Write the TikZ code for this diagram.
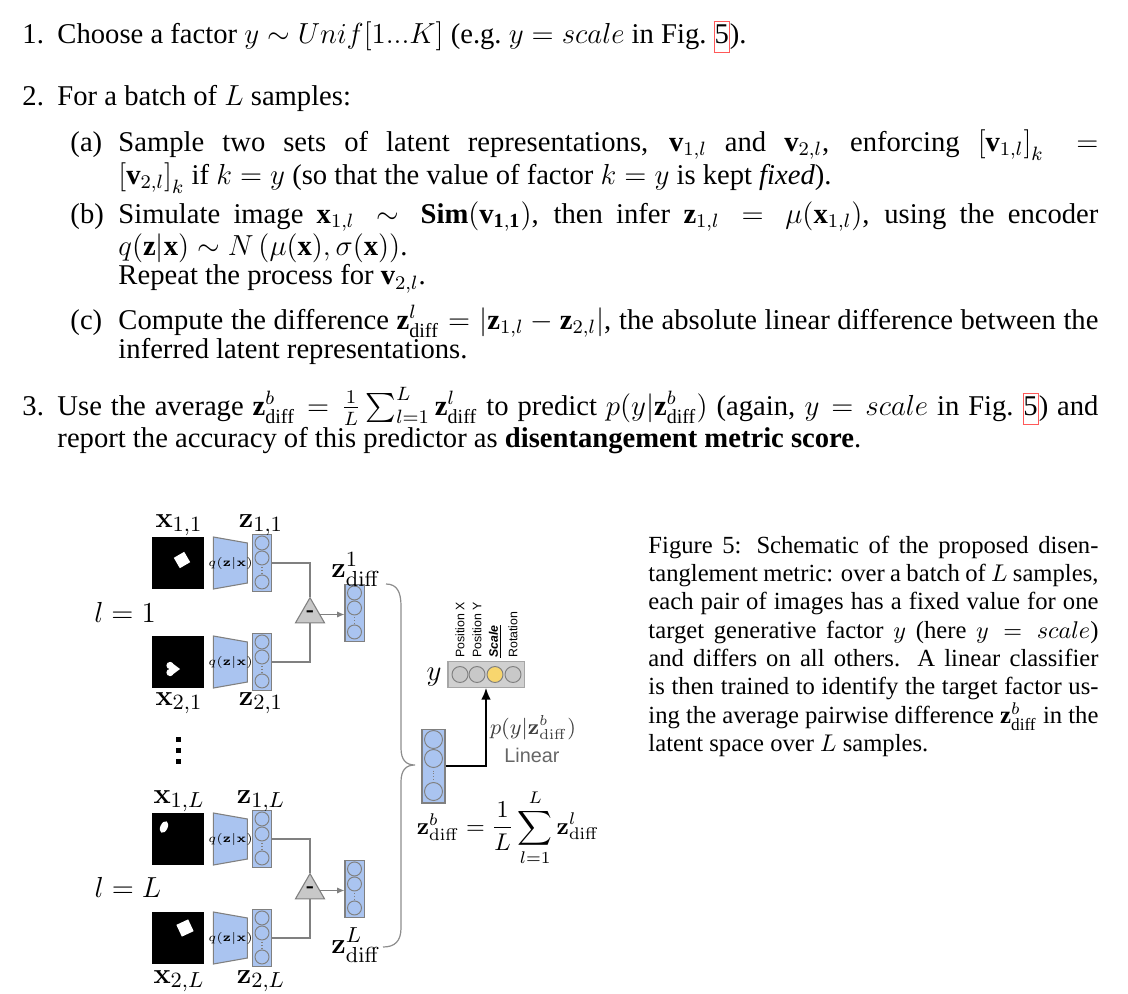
\documentclass[tikz,border=0pt]{standalone}
\usepackage{amsmath}
\usepackage{fontspec}
\setmainfont{Liberation Serif}
\setsansfont{Liberation Sans}
\usetikzlibrary{
  positioning,
  shapes.geometric,
  arrows.meta,
  calc
}
\definecolor{latblue}{RGB}{170,196,240}
\definecolor{latline}{RGB}{128,128,128}
\definecolor{opgray}{RGB}{200,200,200}
\definecolor{selyellow}{RGB}{248,214,110}
\DeclareMathAlphabet{\mathcmbf}{OT1}{cmr}{bx}{n}
\DeclareMathAlphabet{\mathcmrm}{OT1}{cmr}{m}{n}
\newcommand{\figlink}[1]{{\setlength{\fboxsep}{0pt}\fcolorbox{red!65}{white}{\strut#1}}}
\hyphenpenalty=10000
\emergencystretch=2em

\begin{document}
\begin{tikzpicture}[
    x=0.414pt, y=-0.414pt,
    >=Stealth,
    % Text styles
    num/.style={anchor=base west, inner sep=0pt, font=\fontsize{11.85}{12.2}\selectfont},
    para/.style={num, align=justify},
    capt/.style={para, font=\fontsize{10.2}{11.75}\selectfont},
    lab/.style={anchor=base, inner sep=0pt, font=\fontsize{12.5}{14}\selectfont},
    % Figure styles
    img/.style={rectangle, fill=black, inner sep=0pt,
        minimum width=21.5pt, minimum height=21.5pt},
    enc/.style={fill=latblue, draw=latline, line width=0.45pt},
    enclab/.style={inner sep=0pt, font=\fontsize{4.1}{5}\selectfont},
    zvec/.style={rectangle, fill=latblue, draw=latline, line width=0.45pt,
        inner sep=0pt, minimum width=7.9pt, minimum height=23.6pt},
    bvec/.style={zvec, minimum width=9.5pt, minimum height=30.6pt},
    cell/.style={draw=latline, line width=0.4pt},
    cdots/.style={draw=latline, line width=0.5pt, dash pattern=on 0.4pt off 0.8pt},
    minus/.style={regular polygon, regular polygon sides=3, fill=opgray,
        draw=latline, line width=0.45pt, inner sep=0pt, minimum size=13.9pt,
        font=\fontsize{10}{10}\selectfont\bfseries},
    ybox/.style={rectangle, fill=opgray!85, draw=latline!70, line width=0.45pt,
        inner sep=0pt, minimum width=31.5pt, minimum height=10.4pt},
    fac/.style={anchor=west, rotate=90, inner sep=0pt,
        font=\fontsize{5.1}{6}\selectfont\sffamily},
    % Arrow styles
    conn/.style={draw=latline, line width=0.5pt},
    oparr/.style={conn, -{Latex[length=3pt, width=2.6pt]}},
    linarr/.style={line width=0.9pt, -{Latex[length=5pt, width=4pt]}},
    brace/.style={draw=latline!90, line width=0.5pt}
]
\useasboundingbox (0,0) rectangle (1128,994);

% ==========================================
% TEXT
% ==========================================
\node[num] (n1) at (22,43) {1.};
\node[num] (t1) at (57,43) {Choose a factor $y \sim Unif[1...K]$ (e.g.\ $y = scale$ in Fig.~\figlink{5}).};

\node[num] (n2) at (22,105) {2.};
\node[num] (t2) at (57,105) {For a batch of $L$ samples:};

\node[num] (na) at (70,151) {(a)};
\node[para, text width=405.7pt] (ta) at (118,151) {Sample two sets of latent representations, $\mathbf{v}_{1,l}$ and $\mathbf{v}_{2,l}$, enforcing $\left[\mathbf{v}_{1,l}\right]_k =$\linebreak $\left[\mathbf{v}_{2,l}\right]_k$ if $k = y$ (so that the value of factor $k = y$ is kept \emph{fixed}).};

\node[num] (nb) at (70,223) {(b)};
\node[para, text width=405.7pt] (tb) at (118,223) {Simulate image $\mathbf{x}_{1,l} \sim \mathbf{Sim}(\mathbf{v_{1,1}})$, then infer $\mathbf{z}_{1,l} = \mu(\mathbf{x}_{1,l})$, using the encoder\linebreak $q(\mathbf{z}|\mathbf{x}) \sim N\left(\mu(\mathbf{x}), \sigma(\mathbf{x})\right)$.\\ Repeat the process for $\mathbf{v}_{2,l}$.};

\node[num] (nc) at (70,329) {(c)};
\node[para, text width=405.7pt] (tc) at (118,329) {Compute the difference $\mathbf{z}^l_{\text{diff}} = |\mathbf{z}_{1,l} - \mathbf{z}_{2,l}|$, the absolute linear difference between the\linebreak inferred latent representations.};

\node[num] (n3) at (22,415) {3.};
\node[para, text width=431pt] (t3) at (57,415) {Use the average $\mathbf{z}^b_{\text{diff}} = \frac{1}{L}\sum_{l=1}^{L}\mathbf{z}^l_{\text{diff}}$ to predict $p(y|\mathbf{z}^b_{\text{diff}})$ (again, $y = scale$ in Fig.~\figlink{5}) and\linebreak report the accuracy of this predictor as \textbf{disentangement metric score}.};

\node[capt, text width=186.3pt] (cap) at (648,553) {Figure 5: Schematic of the proposed disen-\linebreak tanglement metric: over a batch of $L$ samples,\linebreak each pair of images has a fixed value for one\linebreak target generative factor $y$ (here $y = scale$)\linebreak and differs on all others. A linear classifier\linebreak is then trained to identify the target factor us-\linebreak ing the average pairwise difference $\mathbf{z}^b_{\text{diff}}$ in the\linebreak latent space over $L$ samples.};

% ==========================================
% FIGURE: IMAGES, ENCODERS, LATENTS
% ==========================================
\foreach \r/\yc in {11/563, 21/662, 1L/839, 2L/938}{
    \node[img] (x\r) at (178,\yc) {};
    \draw[enc] ($(x\r.east)+(9,-26)$) -- ++(34,6) -- ++(0,40) -- ++(-34,6) -- cycle;
    \node[enclab] (q\r) at ($(x\r.east)+(26,0)$) {$q(\mathcmbf{z}|\mathcmbf{x})$};
    \node[zvec] (z\r) at (262,\yc) {};
}

% white sprites in the images
\fill[white, rotate around={30:(182,560)}] (176,554) rectangle (188,566);
\fill[white] (170,665.5) circle[radius=3.6] (170,672.5) circle[radius=3.6];
\fill[white] (170.5,661.8) -- (180,669) -- (170.5,676.2) -- cycle;
\fill[white, rotate around={-25:(164,827)}] (164,827) ellipse[x radius=3.6, y radius=6.2];
\fill[white, rotate around={25:(185,928)}] (178.5,921.5) rectangle (191.5,934.5);

% difference operators and difference codes
\node[minus] (op1) at (310,614.5) {-};
\node[minus] (opL) at (310,890.5) {-};
\node[zvec] (d1) at (354.5,613) {};
\node[zvec] (dL) at (354.5,889) {};

% cells of the latent codes
\foreach \v in {z11,z21,z1L,z2L,d1,dL}{
    \foreach \dy in {9,24,48}
        \draw[cell] ($(\v.north)+(0,\dy)$) circle[radius=7];
    \draw[cdots] ($(\v.north)+(0,33)$) -- ($(\v.north)+(0,40)$);
}

% labels
\node[lab] (lx11) at (179,527) {$\mathcmbf{x}_{\mathcmrm{1,1}}$};
\node[lab] (lz11) at (261,527) {$\mathcmbf{z}_{\mathcmrm{1,1}}$};
\node[lab] (lx21) at (179,705) {$\mathcmbf{x}_{\mathcmrm{2,1}}$};
\node[lab] (lz21) at (261,705) {$\mathcmbf{z}_{\mathcmrm{2,1}}$};
\node[lab] (lx1L) at (179,803) {$\mathcmbf{x}_{\mathcmrm{1},L}$};
\node[lab] (lz1L) at (261,803) {$\mathcmbf{z}_{\mathcmrm{1},L}$};
\node[lab] (lx2L) at (179,983) {$\mathcmbf{x}_{\mathcmrm{2},L}$};
\node[lab] (lz2L) at (261,983) {$\mathcmbf{z}_{\mathcmrm{2},L}$};
\node[lab] (ld1) at (356,577) {$\mathcmbf{z}^{\mathcmrm{1}}_{\mathcmrm{diff}}$};
\node[lab] (ldL) at (356,953) {$\mathcmbf{z}^{L}_{\mathcmrm{diff}}$};
\node[lab, font=\fontsize{12}{14}\selectfont] (lone) at (125,622) {$l = \mathcmrm{1}$};
\node[lab, font=\fontsize{12}{14}\selectfont] (lbig) at (128,897) {$l = L$};

% vertical dots between the pairs
\foreach \dy in {739,750,761}
    \fill (175.5,\dy-2.5) rectangle (180.5,\dy+2.5);

% ==========================================
% ROUTING
% ==========================================
\draw[conn] (z11.east) -| (op1.north);
\draw[conn] (z21.east) -| (op1.south);
\draw[oparr] (op1.east) -- (op1.east -| d1.west);
\draw[conn] (z1L.east) -| (opL.north);
\draw[conn] (z2L.east) -| (opL.south);
\draw[oparr] (opL.east) -- (opL.east -| dL.west);

% brace collecting the batch
\draw[brace] (386,584) .. controls (397,584) and (401,592) .. (401,606) -- (401,748)
    .. controls (401,760) and (406,765) .. (415,765)
    .. controls (406,765) and (401,770) .. (401,782) -- (401,928)
    .. controls (401,941) and (395,947) .. (383,947);

% ==========================================
% AVERAGE CODE AND CLASSIFIER
% ==========================================
\node[bvec] (zb) at (433.5,766) {};
\foreach \dy in {11,30,63}
    \draw[cell] ($(zb.north)+(0,\dy)$) circle[radius=9];
\draw[cdots] ($(zb.north)+(0,42)$) -- ($(zb.north)+(0,51)$);
\node[anchor=base, inner sep=0pt, font=\fontsize{10.3}{12}\selectfont] (avg) at (508,834)
    {$\mathcmbf{z}^b_{\mathcmrm{diff}} = \dfrac{\mathcmrm{1}}{L}\displaystyle\sum_{l=\mathcmrm{1}}^{L}\mathcmbf{z}^l_{\mathcmrm{diff}}$};

\node[ybox] (ybox) at (486,674.5) {};
\foreach \dx/\c in {-26/opgray, -9/opgray, 9/selyellow, 27/opgray}
    \draw[cell, fill=\c] ($(ybox.center)+(\dx,0)$) circle[radius=8];
\node[lab, font=\fontsize{12}{14}\selectfont] (ylab) at (434,680) {$y$};
\node[fac] (fpx) at (460,658) {Position X};
\node[fac] (fpy) at (477,658) {Position Y};
\node[fac] (fsc) at (495,658) {\underline{\textbf{\textit{Scale}}}};
\node[fac] (fro) at (513,658) {Rotation};

\draw[linarr] (zb.east) -| (ybox.south);
\node[inner sep=0pt, font=\fontsize{9}{11}\selectfont, text=black!75] (plab) at (533,728) {$p(y|\mathcmbf{z}^b_{\mathcmrm{diff}})$};
\node[inner sep=0pt, font=\fontsize{8.2}{10}\selectfont\sffamily, text=black!60] (linlab) at (532,755) {Linear};

\end{tikzpicture}
\end{document}
